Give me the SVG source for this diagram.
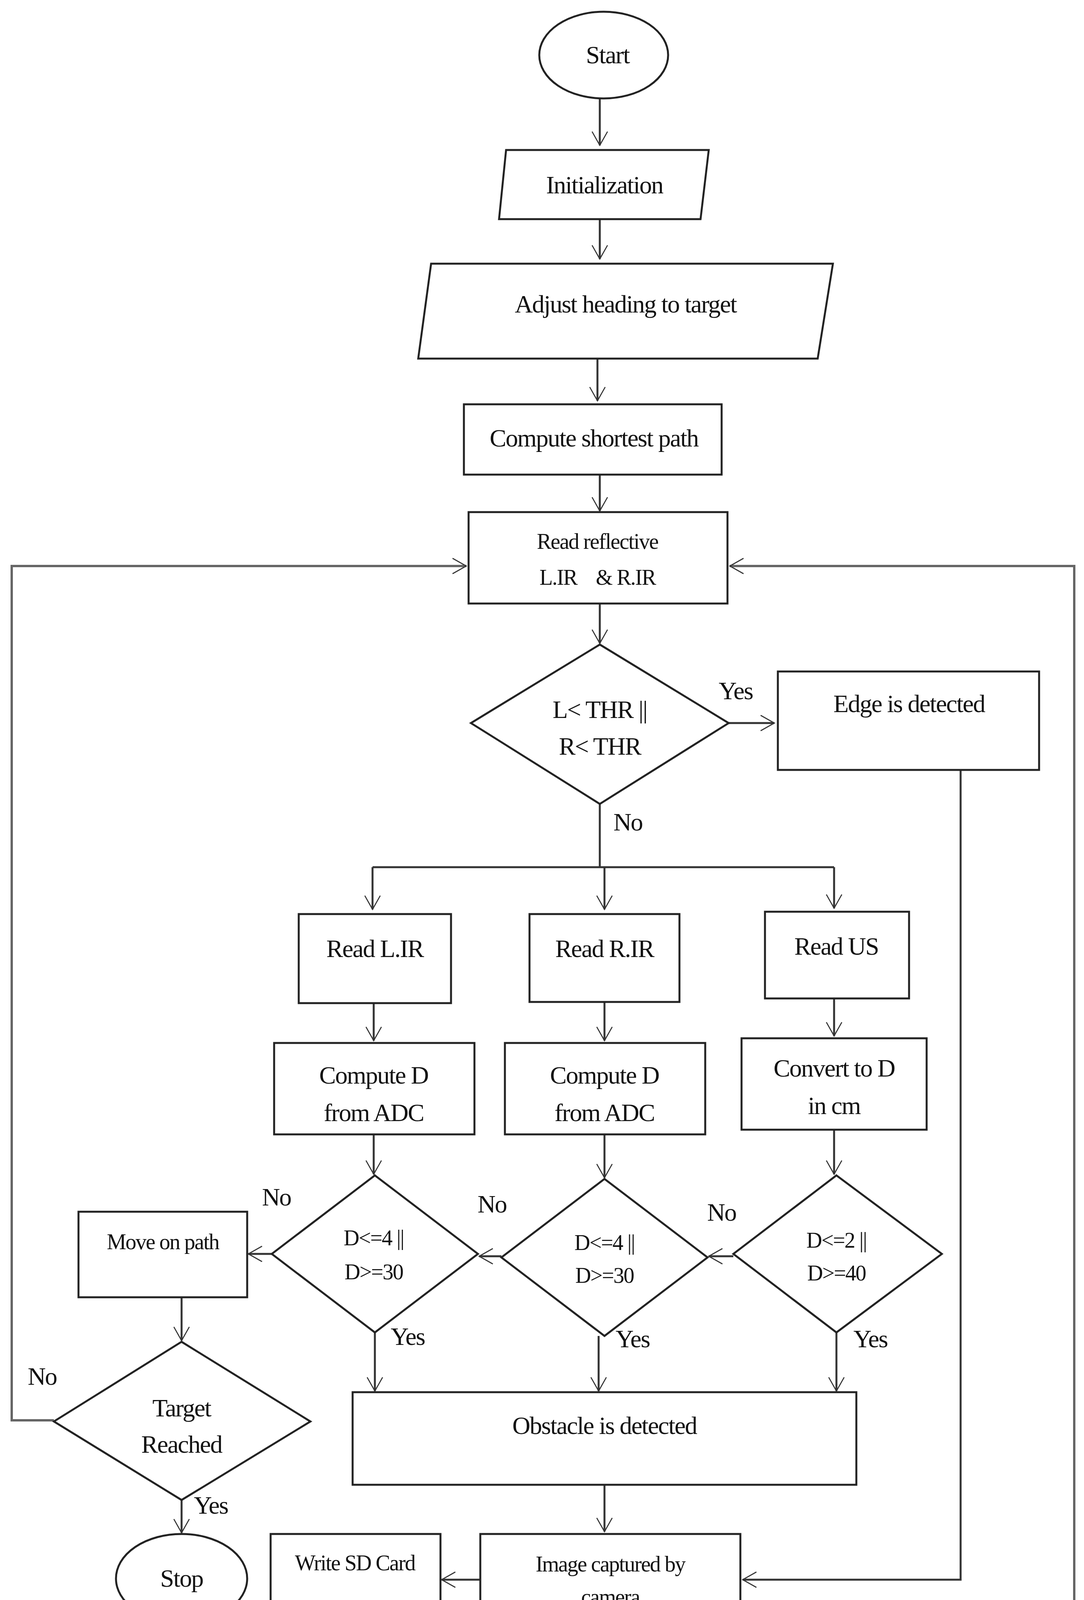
<svg xmlns="http://www.w3.org/2000/svg" width="2776" height="4696" viewBox="0 0 2776 4696">
<style>
.s{fill:#fff;stroke:#222;stroke-width:5}
.c{fill:none;stroke:#333;stroke-width:5}
.g{fill:none;stroke:#666;stroke-width:6}
text{font-family:"Liberation Serif","DejaVu Serif",serif;fill:#111;text-anchor:middle;letter-spacing:-2px}
.t{font-size:64px}
.m{font-size:56px}
.cap{font-size:70px;letter-spacing:0}
</style>
<defs>
<marker id="a" viewBox="0 0 20 20" refX="19" refY="10" markerWidth="18" markerHeight="18" markerUnits="userSpaceOnUse" orient="auto" overflow="visible">
<path d="M-20,-12 L19,10 L-20,32" fill="none" stroke="#333" stroke-width="3"/>
</marker>
</defs>
<g id="connectors">
<path class="c" marker-end="url(#a)" d="M1536,252V372"/>
<path class="c" marker-end="url(#a)" d="M1536,561V663"/>
<path class="c" marker-end="url(#a)" d="M1530,918V1026"/>
<path class="c" marker-end="url(#a)" d="M1536,1215V1308"/>
<path class="c" marker-end="url(#a)" d="M1536,1545V1647"/>
<path class="c" marker-end="url(#a)" d="M1866,1851H1983"/>
<path class="c" marker-end="url(#a)" d="M2460,1971V4044H1902"/>
<path class="c" d="M1536,2058V2220M954,2220H2136"/>
<path class="c" marker-end="url(#a)" d="M954,2220V2328"/>
<path class="c" marker-end="url(#a)" d="M1548,2220V2328"/>
<path class="c" marker-end="url(#a)" d="M2136,2220V2325"/>
<path class="c" marker-end="url(#a)" d="M957,2568V2664"/>
<path class="c" marker-end="url(#a)" d="M1548,2565V2664"/>
<path class="c" marker-end="url(#a)" d="M2136,2556V2652"/>
<path class="c" marker-end="url(#a)" d="M957,2904V3006"/>
<path class="c" marker-end="url(#a)" d="M1548,2904V3015"/>
<path class="c" marker-end="url(#a)" d="M2136,2892V3006"/>
<path class="c" marker-end="url(#a)" d="M1878,3216H1815"/>
<path class="c" marker-end="url(#a)" d="M1284,3216H1227"/>
<path class="c" marker-end="url(#a)" d="M696,3210H636"/>
<path class="c" marker-end="url(#a)" d="M465,3321V3432"/>
<path class="g" marker-end="url(#a)" d="M138,3636H30V1449H1194"/>
<path class="c" marker-end="url(#a)" d="M465,3840V3924"/>
<path class="c" marker-end="url(#a)" d="M960,3411V3561"/>
<path class="c" marker-end="url(#a)" d="M1533,3420V3561"/>
<path class="c" marker-end="url(#a)" d="M2142,3411V3561"/>
<path class="c" marker-end="url(#a)" d="M1548,3801V3921"/>
<path class="c" marker-end="url(#a)" d="M1230,4044H1131"/>
<path class="c" marker-end="url(#a)" d="M1548,4161V4263"/>
<path class="g" marker-end="url(#a)" d="M1938,4395H2751V1449H1869"/>
</g>
<g id="start"><ellipse class="s" cx="1546" cy="141" rx="165" ry="111"/><text class="t" x="1556" y="162">Start</text></g>
<g id="init"><polygon class="s" points="1296,384 1815,384 1794,561 1278,561"/><text class="t" x="1548" y="495">Initialization</text></g>
<g id="adjust"><polygon class="s" points="1104,675 2133,675 2094,918 1071,918"/><text class="t" x="1602" y="800">Adjust heading to target</text></g>
<g id="shortest"><rect class="s" x="1188" y="1035" width="660" height="180"/><text class="t" x="1521" y="1143">Compute shortest path</text></g>
<g id="readref"><rect class="s" x="1200" y="1311" width="663" height="234"/><text class="m" x="1530" y="1405">Read reflective</text><text class="m" x="1530" y="1497" xml:space="preserve">L.IR    &amp; R.IR</text></g>
<g id="thr"><polygon class="s" points="1536,1650 1866,1851 1536,2058 1206,1851"/><text class="t" x="1536" y="1838">L&lt; THR ||</text><text class="t" x="1536" y="1932">R&lt; THR</text></g>
<text class="t" x="1884" y="1790">Yes</text>
<text class="t" x="1608" y="2126">No</text>
<g id="edge"><rect class="s" x="1992" y="1719" width="669" height="252"/><text class="t" x="2328" y="1823">Edge is detected</text></g>
<g id="readl"><rect class="s" x="765" y="2340" width="390" height="228"/><text class="t" x="960" y="2450">Read L.IR</text></g>
<g id="readr"><rect class="s" x="1356" y="2340" width="384" height="225"/><text class="t" x="1548" y="2450">Read R.IR</text></g>
<g id="readus"><rect class="s" x="1959" y="2334" width="369" height="222"/><text class="t" x="2142" y="2444">Read US</text></g>
<g id="cdl"><rect class="s" x="702" y="2670" width="513" height="234"/><text class="t" x="957" y="2774">Compute D</text><text class="t" x="957" y="2870">from ADC</text></g>
<g id="cdr"><rect class="s" x="1293" y="2670" width="513" height="234"/><text class="t" x="1548" y="2774">Compute D</text><text class="t" x="1548" y="2870">from ADC</text></g>
<g id="conv"><rect class="s" x="1899" y="2658" width="474" height="234"/><text class="t" x="2136" y="2756">Convert to D</text><text class="t" x="2136" y="2852">in cm</text></g>
<g id="d1"><polygon class="s" points="960,3009 1224,3210 960,3411 696,3210"/><text class="m" x="957" y="3188">D&lt;=4 ||</text><text class="m" x="957" y="3275">D&gt;=30</text></g>
<g id="d2"><polygon class="s" points="1548,3018 1812,3219 1548,3420 1284,3219"/><text class="m" x="1548" y="3200">D&lt;=4 ||</text><text class="m" x="1548" y="3284">D&gt;=30</text></g>
<g id="d3"><polygon class="s" points="2142,3009 2412,3210 2142,3411 1878,3210"/><text class="m" x="2142" y="3194">D&lt;=2 ||</text><text class="m" x="2142" y="3278">D&gt;=40</text></g>
<text class="t" x="1848" y="3125">No</text>
<text class="t" x="1260" y="3104">No</text>
<text class="t" x="708" y="3086">No</text>
<text class="t" x="1044" y="3443">Yes</text>
<text class="t" x="1620" y="3449">Yes</text>
<text class="t" x="2229" y="3449">Yes</text>
<g id="move"><rect class="s" x="201" y="3102" width="432" height="219"/><text class="m" x="417" y="3198">Move on path</text></g>
<g id="target"><polygon class="s" points="465,3435 795,3639 465,3840 138,3639"/><text class="t" x="465" y="3626">Target</text><text class="t" x="465" y="3719">Reached</text></g>
<text class="t" x="108" y="3545">No</text>
<text class="t" x="540" y="3875">Yes</text>
<g id="stop"><ellipse class="s" cx="465" cy="4041" rx="168" ry="114"/><text class="t" x="465" y="4062">Stop</text></g>
<g id="obstacle"><rect class="s" x="903" y="3564" width="1290" height="237"/><text class="t" x="1548" y="3671">Obstacle is detected</text></g>
<g id="image"><rect class="s" x="1230" y="3927" width="666" height="234"/><text class="m" x="1563" y="4023">Image captured by</text><text class="m" x="1563" y="4107">camera</text></g>
<g id="sd"><rect class="s" x="693" y="3927" width="435" height="234"/><text class="m" x="909" y="4020">Write SD Card</text></g>
<g id="motion"><rect class="s" x="1164" y="4269" width="774" height="234"/><text class="m" x="1551" y="4368">Adjust motion and compute a</text><text class="m" x="1551" y="4452">new heading angle</text></g>
<text class="cap" x="1392" y="4650">(<tspan font-weight="bold">a</tspan>) Flowchart of the proposed motion planning algorithm.</text>
</svg>
